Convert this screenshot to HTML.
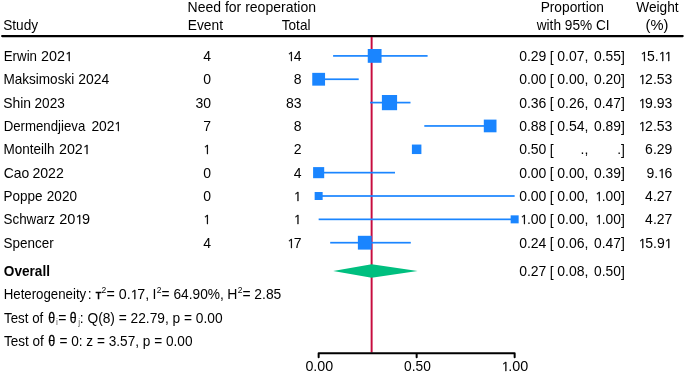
<!DOCTYPE html><html><head><meta charset="utf-8"><style>html,body{margin:0;padding:0;background:#fff;overflow:hidden}svg{display:block}text{font-family:"Liberation Sans",Arial,sans-serif;font-size:14px;fill:#000;white-space:pre}.o{font-family:NanumGothic,sans-serif;font-size:13.30px;stroke:#000;stroke-width:0.3}</style></head><body>
<svg width="685" height="372" viewBox="0 0 685 372">
<path d="M2.1,36.1 H682.7" stroke="#000" stroke-width="2.1" stroke-linecap="round"/>
<rect x="370.65" y="37" width="1.95" height="315.5" fill="#c70c3f"/>
<rect x="333.10" y="55.05" width="94.50" height="1.7" fill="#1a85ff"/>
<rect x="318.65" y="78.40" width="40.05" height="1.7" fill="#1a85ff"/>
<rect x="370.10" y="101.75" width="40.40" height="1.7" fill="#1a85ff"/>
<rect x="424.30" y="125.10" width="68.90" height="1.7" fill="#1a85ff"/>
<rect x="318.65" y="171.80" width="76.35" height="1.7" fill="#1a85ff"/>
<rect x="318.65" y="195.15" width="196.00" height="1.7" fill="#1a85ff"/>
<rect x="318.65" y="218.50" width="196.00" height="1.7" fill="#1a85ff"/>
<rect x="330.20" y="241.85" width="80.60" height="1.7" fill="#1a85ff"/>
<rect x="367.75" y="49.00" width="13.80" height="13.80" fill="#1a85ff"/>
<rect x="312.25" y="72.85" width="12.80" height="12.80" fill="#1a85ff"/>
<rect x="381.89" y="95.00" width="15.20" height="15.20" fill="#1a85ff"/>
<rect x="483.80" y="119.60" width="12.70" height="12.70" fill="#1a85ff"/>
<rect x="411.90" y="144.55" width="9.50" height="9.50" fill="#1a85ff"/>
<rect x="313.10" y="167.10" width="11.10" height="11.10" fill="#1a85ff"/>
<rect x="314.65" y="192.00" width="8.00" height="8.00" fill="#1a85ff"/>
<rect x="510.65" y="215.35" width="8.00" height="8.00" fill="#1a85ff"/>
<rect x="357.87" y="235.80" width="13.80" height="13.80" fill="#1a85ff"/>
<polygon points="333.2,271 371.65,264.2 417.6,271 371.65,277.7" fill="#00bf7f"/>
<path d="M318.65,357.2 V353.3 H514.65 V357.2 M416.65,353.3 V357.2" fill="none" stroke="#000" stroke-width="2" stroke-linejoin="round" stroke-linecap="round"/>
<text transform="translate(187.52 11.90) scale(1.0013 1)">Need for reoperation</text>
<text transform="translate(187.74 29.60) scale(0.9852 1)">Event</text>
<text transform="translate(281.78 29.60) scale(0.9710 1)">Total</text>
<text transform="translate(3.17 29.60) scale(0.9774 1)">Study</text>
<text transform="translate(540.64 11.70) scale(0.9818 1)">Proportion</text>
<text transform="translate(536.69 29.60) scale(0.9777 1)">with 95% CI</text>
<text transform="translate(636.28 11.70) scale(0.9792 1)">Weight</text>
<text transform="translate(645.55 29.50) scale(1.0491 1)">(%)</text>
<text transform="translate(3.68 61.00) scale(0.9530 1)">Erwin</text>
<text transform="translate(41.07 61.00) scale(1.0276 1)">202<tspan class="o" dx="-0.40">1</tspan></text>
<text transform="translate(3.46 84.35) scale(0.9691 1)">Maksimoski</text>
<text transform="translate(78.30 84.35) scale(0.9965 1)">2024</text>
<text transform="translate(3.15 107.70) scale(0.9934 1)">Shin</text>
<text transform="translate(34.51 107.70) scale(0.9721 1)">2023</text>
<text transform="translate(3.69 131.05) scale(0.9453 1)">Dermendjieva</text>
<text transform="translate(91.40 131.05) scale(0.9910 1)">202<tspan class="o" dx="-0.40">1</tspan></text>
<text transform="translate(3.46 154.40) scale(0.9676 1)">Monteilh</text>
<text transform="translate(58.98 154.40) scale(1.0203 1)">202<tspan class="o" dx="-0.40">1</tspan></text>
<text transform="translate(3.64 177.75) scale(0.9965 1)">Cao</text>
<text transform="translate(32.39 177.75) scale(1.0095 1)">2022</text>
<text transform="translate(3.47 201.10) scale(0.9643 1)">Poppe</text>
<text transform="translate(46.82 201.10) scale(0.9689 1)">2020</text>
<text transform="translate(3.49 224.45) scale(0.9586 1)">Schwarz</text>
<text transform="translate(59.17 224.45) scale(1.0391 1)">20<tspan class="o" dx="-0.40">1</tspan><tspan dx="-1.16">9</tspan></text>
<text transform="translate(3.49 247.80) scale(0.9636 1)">Spencer</text>
<text transform="translate(3.77 276.00) scale(0.9750 1)" style="font-weight:bold;">Overall</text>
<text transform="translate(3.69 299.20) scale(0.9476 1)">Heterogeneity</text>
<text x="87.75" y="299.20">:</text>
<text transform="translate(95.85 299.20) scale(0.8500 1)" style="font-family:'WenQuanYi Zen Hei',sans-serif;stroke:#000;stroke-width:0.45;">τ</text>
<text x="101.47" y="292.80" style="font-size:8.5px;">2</text>
<text transform="translate(106.60 299.20) scale(1.0171 1)">= 0.<tspan class="o" dx="-0.40">1</tspan><tspan dx="-1.16">7,</tspan></text>
<text x="152.60" y="299.20">I</text>
<text x="156.79" y="292.80" style="font-size:8.5px;">2</text>
<text transform="translate(161.62 299.20) scale(0.9816 1)">= 64.90%,</text>
<text x="227.23" y="299.20">H</text>
<text x="237.64" y="292.80" style="font-size:8.5px;">2</text>
<text transform="translate(242.42 299.20) scale(0.9906 1)">= 2.85</text>
<text transform="translate(4.09 323.00) scale(0.9503 1)">Test of</text>
<text transform="translate(48.25 323.00) scale(0.8788 1)" style="stroke:#000;stroke-width:0.3;">θ</text>
<text x="55.96" y="324.70" style="font-size:8.5px;fill:#666;">i</text>
<text transform="translate(58.31 323.00) scale(1.0023 1)">=</text>
<text transform="translate(69.75 323.00) scale(0.8788 1)" style="stroke:#000;stroke-width:0.3;">θ</text>
<text x="78.22" y="324.70" style="font-size:8.5px;fill:#666;">j</text>
<text transform="translate(79.83 323.00) scale(0.9817 1)">: Q(8) = 22.79, p = 0.00</text>
<text transform="translate(4.08 346.00) scale(0.9650 1)">Test of</text>
<text transform="translate(48.14 346.00) scale(0.8947 1)" style="stroke:#000;stroke-width:0.3;">θ</text>
<text transform="translate(59.43 346.00) scale(0.9746 1)">= 0: z = 3.57, p = 0.00</text>
<text transform="translate(305.39 370.60) scale(1.0203 1)">0.00</text>
<text transform="translate(404.11 370.60) scale(0.9819 1)">0.50</text>
<text transform="translate(501.65 370.60) scale(1.0284 1)"><tspan class="o" dx="-0.40">1</tspan><tspan dx="-1.16">.00</tspan></text>
<text x="203.26" y="61.00">4</text>
<text x="287.35" y="61.00"><tspan class="o" dx="-0.40">1</tspan><tspan dx="-1.16">4</tspan></text>
<text x="519.13" y="61.00">0.29</text>
<text x="557.25" y="61.00">0.07,</text>
<text transform="translate(594.11 61.00) scale(0.9867 1)">0.55</text>
<text x="640.46" y="61.00"><tspan class="o" dx="-0.40">1</tspan><tspan dx="-1.16">5.</tspan><tspan class="o" dx="-0.40">1</tspan><tspan class="o" dx="-2.01">1</tspan></text>
<text x="203.26" y="84.35">0</text>
<text x="293.85" y="84.35">8</text>
<text x="519.13" y="84.35">0.00</text>
<text x="557.25" y="84.35">0.00,</text>
<text transform="translate(594.11 84.35) scale(0.9867 1)">0.20</text>
<text x="638.61" y="84.35"><tspan class="o" dx="-0.40">1</tspan><tspan dx="-1.16">2.53</tspan></text>
<text x="195.48" y="107.70">30</text>
<text x="286.07" y="107.70">83</text>
<text x="519.13" y="107.70">0.36</text>
<text x="557.25" y="107.70">0.26,</text>
<text transform="translate(594.11 107.70) scale(0.9867 1)">0.47</text>
<text x="638.61" y="107.70"><tspan class="o" dx="-0.40">1</tspan><tspan dx="-1.16">9.93</tspan></text>
<text x="203.26" y="131.05">7</text>
<text x="293.85" y="131.05">8</text>
<text x="519.13" y="131.05">0.88</text>
<text x="557.25" y="131.05">0.54,</text>
<text transform="translate(594.11 131.05) scale(0.9867 1)">0.89</text>
<text x="638.61" y="131.05"><tspan class="o" dx="-0.40">1</tspan><tspan dx="-1.16">2.53</tspan></text>
<text x="203.39" y="154.40"><tspan class="o" dx="-0.40">1</tspan></text>
<text x="293.85" y="154.40">2</text>
<text x="519.13" y="154.40">0.50</text>
<text x="580.61" y="154.40">.,</text>
<text transform="translate(617.16 154.40) scale(0.9867 1)">.</text>
<text x="645.12" y="154.40">6.29</text>
<text x="203.26" y="177.75">0</text>
<text x="293.85" y="177.75">4</text>
<text x="519.13" y="177.75">0.00</text>
<text x="557.25" y="177.75">0.00,</text>
<text transform="translate(594.11 177.75) scale(0.9867 1)">0.39</text>
<text x="646.38" y="177.75">9.<tspan class="o" dx="-0.40">1</tspan><tspan dx="-1.16">6</tspan></text>
<text x="203.26" y="201.10">0</text>
<text x="293.98" y="201.10"><tspan class="o" dx="-0.40">1</tspan></text>
<text x="519.13" y="201.10">0.00</text>
<text x="557.25" y="201.10">0.00,</text>
<text transform="translate(595.37 201.10) scale(0.9867 1)"><tspan class="o" dx="-0.40">1</tspan><tspan dx="-1.16">.00</tspan></text>
<text x="645.12" y="201.10">4.27</text>
<text x="203.39" y="224.45"><tspan class="o" dx="-0.40">1</tspan></text>
<text x="293.98" y="224.45"><tspan class="o" dx="-0.40">1</tspan></text>
<text x="520.41" y="224.45"><tspan class="o" dx="-0.40">1</tspan><tspan dx="-1.16">.00</tspan></text>
<text x="557.25" y="224.45">0.00,</text>
<text transform="translate(595.37 224.45) scale(0.9867 1)"><tspan class="o" dx="-0.40">1</tspan><tspan dx="-1.16">.00</tspan></text>
<text x="645.12" y="224.45">4.27</text>
<text x="203.26" y="247.80">4</text>
<text x="287.35" y="247.80"><tspan class="o" dx="-0.40">1</tspan><tspan dx="-1.16">7</tspan></text>
<text x="519.13" y="247.80">0.24</text>
<text x="557.25" y="247.80">0.06,</text>
<text transform="translate(594.11 247.80) scale(0.9867 1)">0.47</text>
<text x="638.73" y="247.80"><tspan class="o" dx="-0.40">1</tspan><tspan dx="-1.16">5.9</tspan><tspan class="o" dx="-0.40">1</tspan></text>
<text x="519.13" y="275.90">0.27</text>
<text x="557.25" y="275.90">0.08,</text>
<text transform="translate(594.11 275.90) scale(0.9867 1)">0.50</text>
<text x="549.70" y="61.60">[</text>
<text x="621.07" y="61.60">]</text>
<text x="549.70" y="84.95">[</text>
<text x="621.07" y="84.95">]</text>
<text x="549.70" y="108.30">[</text>
<text x="621.07" y="108.30">]</text>
<text x="549.70" y="131.65">[</text>
<text x="621.07" y="131.65">]</text>
<text x="549.70" y="155.00">[</text>
<text x="621.07" y="155.00">]</text>
<text x="549.70" y="178.35">[</text>
<text x="621.07" y="178.35">]</text>
<text x="549.70" y="201.70">[</text>
<text x="621.07" y="201.70">]</text>
<text x="549.70" y="225.05">[</text>
<text x="621.07" y="225.05">]</text>
<text x="549.70" y="248.40">[</text>
<text x="621.07" y="248.40">]</text>
<text x="549.70" y="276.50">[</text>
<text x="621.07" y="276.50">]</text>
</svg></body></html>
